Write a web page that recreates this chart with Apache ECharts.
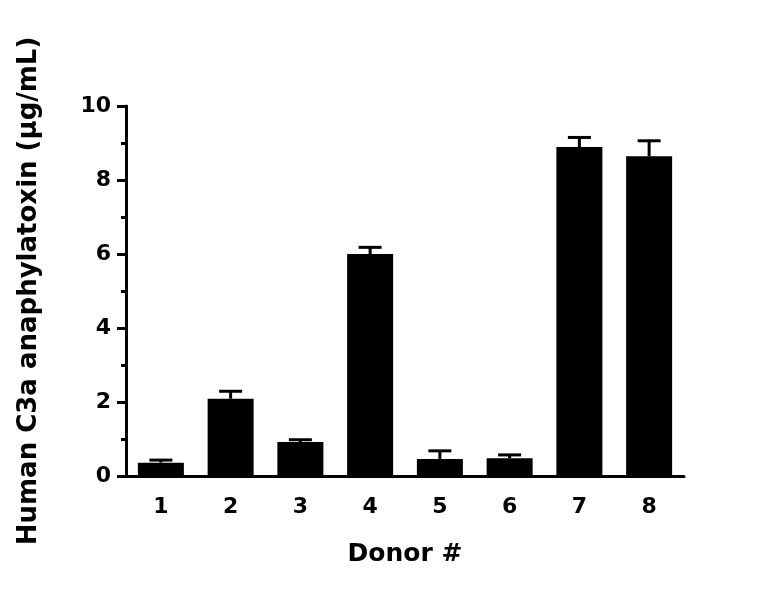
<!DOCTYPE html>
<html>
<head>
<meta charset="utf-8">
<script src="https://cdn.jsdelivr.net/npm/echarts@6/dist/echarts.min.js"></script>
<style>html,body{margin:0;padding:0;background:#fff}#c{width:768px;height:596px}</style>
</head>
<body>
<div id="c"></div>
<script>
const categories = ['1','2','3','4','5','6','7','8'];
const means = [0.36, 2.09, 0.92, 6.00, 0.46, 0.48, 8.89, 8.64];
const errTops = [0.43, 2.29, 0.98, 6.18, 0.68, 0.57, 9.15, 9.06];
const yTicks = [0, 2, 4, 6, 8, 10];

const FONT = 'DejaVu Sans';
const chart = echarts.init(document.getElementById('c'));
chart.setOption({
  animation: false,
  grid: {left: 126, right: 84, top: 106, bottom: 120},
  xAxis: {
    type: 'category',
    data: categories,
    name: 'Donor #',
    nameLocation: 'middle',
    nameGap: 66,
    nameTextStyle: {fontFamily: FONT, fontWeight: 'bold', fontSize: 25, color: '#000'},
    axisLine: {lineStyle: {color: '#000', width: 3}},
    axisTick: {alignWithLabel: true, length: 11, lineStyle: {color: '#000', width: 3}},
    axisLabel: {fontFamily: FONT, fontWeight: 'bold', fontSize: 22, color: '#000', margin: 20}
  },
  yAxis: {
    type: 'value',
    min: yTicks[0], max: yTicks[yTicks.length - 1], interval: 2,
    name: 'Human C3a anaphylatoxin (µg/mL)',
    nameLocation: 'middle',
    nameGap: 84,
    nameTextStyle: {fontFamily: FONT, fontWeight: 'bold', fontSize: 26, color: '#000'},
    axisLine: {show: true, lineStyle: {color: '#000', width: 3}},
    axisTick: {show: true, length: 9, lineStyle: {color: '#000', width: 3}},
    minorTick: {show: true, splitNumber: 2, length: 5, lineStyle: {color: '#000', width: 3}},
    splitLine: {show: false},
    axisLabel: {fontFamily: FONT, fontWeight: 'bold', fontSize: 22, color: '#000', margin: 15}
  },
  series: [
    {
      type: 'bar',
      data: means,
      barWidth: 46,
      itemStyle: {color: '#000'},
      z: 2
    },
    {
      type: 'custom',
      z: 3,
      data: categories.map((c, i) => [i, means[i], errTops[i]]),
      renderItem: function (params, api) {
        const base = api.coord([api.value(0), api.value(1)]);
        const top = api.coord([api.value(0), api.value(2)]);
        const half = 11.5;
        return {
          type: 'group',
          children: [
            {type: 'line', shape: {x1: base[0], y1: base[1], x2: top[0], y2: top[1]}, style: {stroke: '#000', lineWidth: 3}},
            {type: 'line', shape: {x1: top[0] - half, y1: top[1], x2: top[0] + half, y2: top[1]}, style: {stroke: '#000', lineWidth: 3}}
          ]
        };
      }
    }
  ]
});
</script>
</body>
</html>
